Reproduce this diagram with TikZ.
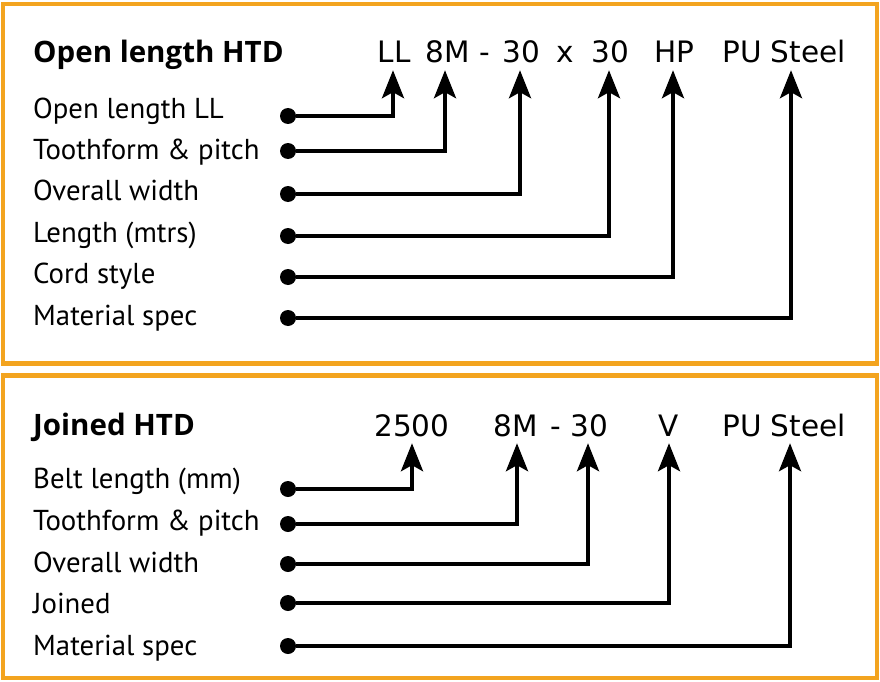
\documentclass[tikz,border=0pt]{standalone}
\usepackage{fontspec}
\setmainfont{PT Sans}
\newfontfamily\codefont{DejaVu Sans}
\newfontfamily\headfont{Open Sans}
\usetikzlibrary{arrows.meta}
\definecolor{boxorange}{RGB}{243,164,31}
\tikzset{
  frame/.style={draw=boxorange, line width=4.5pt},
  label/.style={anchor=base west, inner sep=0pt, font=\fontsize{28.8}{31}\selectfont},
  heading/.style={anchor=base west, inner sep=0pt, font=\headfont\bfseries\fontsize{29.5}{32}\selectfont},
  token/.style={anchor=base, inner xsep=0pt, inner ysep=7pt, text depth=0pt, font=\codefont\fontsize{29.5}{32}\selectfont},
  dotmark/.style={circle, fill=black, minimum size=16pt, inner sep=0pt},
  conn/.style={line width=3.6pt, -{Stealth[length=28pt,width=22pt,inset=6pt]}}
}
\begin{document}
\begin{tikzpicture}[x=1pt,y=-1pt]
\useasboundingbox (0,0) rectangle (880,682);
\fill[white] (0,0) rectangle (880,682);
% frames
\draw[frame] (3,4) rectangle (877,363.5);
\draw[frame] (3,375.5) rectangle (877,678);

% ---------- top box ----------
\node[heading] (h1) at (33,63) {Open length HTD};
\node[label] (l1) at (33,118) {Open length LL};
\node[label] (l2) at (33,159) {Toothform \& pitch};
\node[label] (l3) at (33,200) {Overall width};
\node[label] (l4) at (33,242) {Length (mtrs)};
\node[label] (l5) at (33,283) {Cord style};
\node[label] (l6) at (33,325) {Material spec};

\node[token] (tLL) at (394,63) {LL};
\node[token] (t8M) at (447.5,63) {8M};
\node[token] (tda) at (485,63) {-};
\node[token] (t30a) at (521.5,63) {30};
\node[token] (tx) at (565.5,63) {x};
\node[token] (t30b) at (610.5,63) {30};
\node[token] (tHP) at (674.5,63) {HP};
\node[token] (tPU) at (784,63) {PU Steel};

\node[dotmark] (d1) at (288,116) {};
\node[dotmark] (d2) at (288,151) {};
\node[dotmark] (d3) at (288,194) {};
\node[dotmark] (d4) at (288,236) {};
\node[dotmark] (d5) at (288,277) {};
\node[dotmark] (d6) at (288,318) {};

\draw[conn] (d1) -| ([xshift=-1pt]tLL.south);
\draw[conn] (d2) -| ([xshift=-2.5pt]t8M.south);
\draw[conn] (d3) -| ([xshift=-1.5pt]t30a.south);
\draw[conn] (d4) -| ([xshift=-1.5pt]t30b.south);
\draw[conn] (d5) -| ([xshift=-1.5pt]tHP.south);
\draw[conn] (d6) -| ([xshift=7pt]tPU.south);

% ---------- bottom box ----------
\node[heading] (h2) at (33,435) {Joined HTD};
\node[label] (m1) at (33,488) {Belt length (mm)};
\node[label] (m2) at (33,530) {Toothform \& pitch};
\node[label] (m3) at (33,572) {Overall width};
\node[label] (m4) at (33,613) {Joined};
\node[label] (m5) at (33,655) {Material spec};

\node[token] (u2500) at (412,436) {2500};
\node[token] (u8M) at (515.5,436) {8M};
\node[token] (uda) at (556,436) {-};
\node[token] (u30) at (589.5,436) {30};
\node[token] (uV) at (669,436) {V};
\node[token] (uPU) at (784,436) {PU Steel};

\node[dotmark] (e1) at (288,489) {};
\node[dotmark] (e2) at (288,524) {};
\node[dotmark] (e3) at (288,564) {};
\node[dotmark] (e4) at (288,603) {};
\node[dotmark] (e5) at (288,646) {};

\draw[conn] (e1) -| (u2500.south);
\draw[conn] (e2) -| ([xshift=1.5pt]u8M.south);
\draw[conn] (e3) -| ([xshift=-1.5pt]u30.south);
\draw[conn] (e4) -| (uV.south);
\draw[conn] (e5) -| ([xshift=6pt]uPU.south);
\end{tikzpicture}
\end{document}
